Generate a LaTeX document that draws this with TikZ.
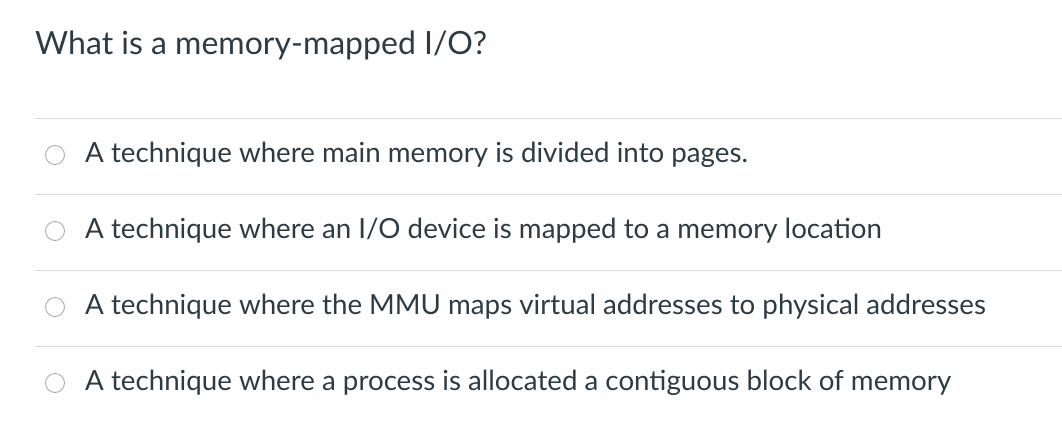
\documentclass[tikz,border=0pt]{standalone}
\usepackage{fontspec}
\setmainfont{Lato}
\definecolor{txt}{HTML}{2D3B45}
\definecolor{rule}{HTML}{D7DBDE}
\definecolor{circ}{HTML}{A5AFB5}
\begin{document}
\begin{tikzpicture}[x=1pt,y=1pt,
  opt/.style={anchor=west,inner sep=0pt,font=\fontsize{27.7}{32}\selectfont,text=txt},
  radio/.style={circle,draw=circ,line width=0.9pt,minimum size=19pt,inner sep=0pt},
  sep/.style={draw=rule,line width=1pt}]
\useasboundingbox (0,0) rectangle (1062,-434);
\node[anchor=west,inner sep=0pt,font=\fontsize{32}{36}\selectfont,text=txt] (q) at (35,-45) {What is a memory-mapped I/O?};
\foreach \i/\t in {0/{A technique where main memory is divided into pages.},
  1/{A technique where an I/O device is mapped to a memory location},
  2/{A technique where the MMU maps virtual addresses to physical addresses},
  3/{A technique where a process is allocated a contiguous block of memory}}{
  \coordinate (l\i a) at (35,-118-76*\i);
  \coordinate (l\i b) at (1062,-118-76*\i);
  \draw[sep] (l\i a) -- (l\i b);
  \node[radio] (r\i) at (55,-155-76*\i) {};
  \node[opt] (o\i) at (85,-155-76*\i) {\t};
}
\end{tikzpicture}
\end{document}
